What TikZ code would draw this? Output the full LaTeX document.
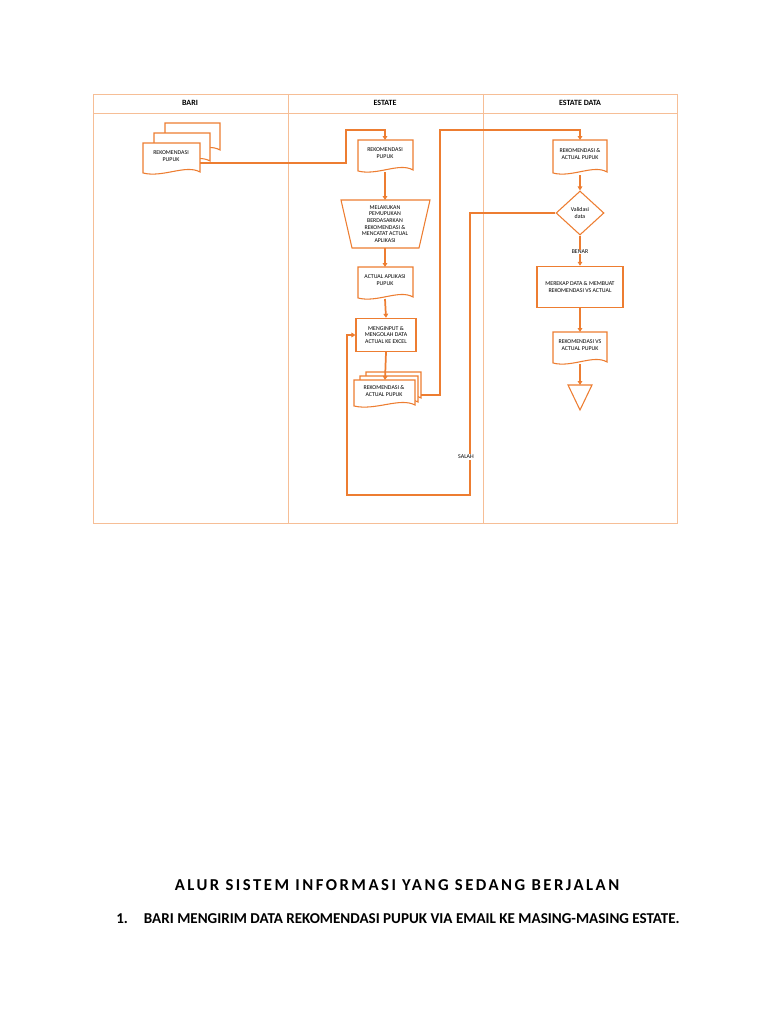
\documentclass[tikz,border=0pt]{standalone}
\usepackage{fontspec}
\setmainfont{Carlito}
\usetikzlibrary{arrows.meta,shapes.geometric}
\definecolor{org}{RGB}{237,125,49}
\definecolor{lorg}{RGB}{246,190,150}
\tikzset{
 x=0.75pt,y=-0.75pt,
 lane/.style={draw=lorg,line width=0.6pt},
 shp/.style={draw=org,line width=0.8pt,fill=white},
 txt/.style={font=\fontsize{4.4}{5}\selectfont,align=center,inner sep=0pt},
 box/.style={txt,shp,minimum width=#1*0.75pt,minimum height=24pt},
 con/.style={draw=org,line width=1.3pt,-{Triangle[length=3pt,width=3.5pt]}},
 conn/.style={draw=org,line width=1.3pt}
}
\newcommand{\mydoc}[4]{\path[shp] (#1,#2) -- (#3,#2) -- (#3,#4)
  .. controls ({#3-0.25*(#3-#1)},{#4-8}) and ({#1+0.35*(#3-#1)},{#4+6}) .. (#1,{#4+1}) -- cycle;}
\begin{document}
\begin{tikzpicture}
\useasboundingbox (0,0) rectangle (768,1024);
\draw[lane] (93,94) rectangle (677,523);
\draw[lane] (93,113) -- (677,113);
\draw[lane] (288,94) -- (288,523);
\draw[lane] (483,94) -- (483,523);
\node[txt,font=\fontsize{6}{7}\selectfont\bfseries] (h1) at (190,103) {BARI};
\node[txt,font=\fontsize{6}{7}\selectfont\bfseries] (h2) at (385,103) {ESTATE};
\node[txt,font=\fontsize{6}{7}\selectfont\bfseries] (h3) at (580,103) {ESTATE DATA};
\mydoc{165}{123}{220}{150}
\mydoc{154}{133}{210}{161}
\mydoc{143}{143}{200}{172}
\node[txt] (bari) at (171,156) {REKOMENDASI\\PUPUK};
\coordinate (bariR) at (200,163);
\mydoc{358}{140}{413}{170}
\node[txt] (rp) at (385,153) {REKOMENDASI\\PUPUK};
\path[shp] (341,200) -- (430,200) -- (419,248) -- (352,248) -- cycle;
\node[txt] (man) at (385,224) {MELAKUKAN\\PEMUPUKAN\\BERDASARKAN\\REKOMENDASI \&\\MENCATAT ACTUAL\\APLIKASI};
\mydoc{358}{267}{413}{297}
\node[txt] (aap) at (385,280) {ACTUAL APLIKASI\\PUPUK};
\node[box=60,minimum height=25pt] (inp) at (386,335) {MENGINPUT \&\\MENGOLAH DATA\\ACTUAL KE EXCEL};
\mydoc{366}{372}{421}{398}
\mydoc{360}{376}{418}{402}
\mydoc{354}{380}{415}{405}
\node[txt] (rap) at (384,391) {REKOMENDASI \&\\ACTUAL PUPUK};
\coordinate (rapR) at (421,395);
\mydoc{553}{140}{607}{172}
\node[txt] (ed1) at (580,154) {REKOMENDASI \&\\ACTUAL PUPUK};
\node[diamond,shp,txt,minimum width=36pt,minimum height=33pt,inner sep=0pt] (val) at (580,213) {Validasi\\data};
\node[txt] (benar) at (580,252) {BENAR};
\node[box=86,minimum height=31pt] (rek) at (580,287) {MEREKAP DATA \& MEMBUAT\\REKOMENDASI VS ACTUAL};
\mydoc{553}{332}{607}{362}
\node[txt] (ed2) at (580,345) {REKOMENDASI VS\\ACTUAL PUPUK};
\path[shp] (568,385) -- (592,385) -- (580,410) -- cycle;
\coordinate (tri) at (580,385);
\draw[con] (bariR) -- (346,163) -- (346,130) -- (385,130) -- (rp.north |- 0,140);
\draw[con] (385,172) -- (385,200);
\draw[con] (385,248) -- (385,267);
\draw[con] (385,299) -- (inp.north);
\draw[con] (inp.south) -- (385,380);
\draw[con] (rapR) -- (440,395) -- (440,130) -- (580,130) -- (580,140);
\draw[con] (580,175) -- (val.north);
\draw[conn] (val.south) -- (benar.north);
\draw[con] (benar.south) -- (rek.north);
\draw[con] (rek.south) -- (580,332);
\draw[con] (580,364) -- (tri);
\draw[con] (val.west) -- (470,213) -- (470,495) -- (347,495) -- (347,335) -- (inp.west);
\node[txt,fill=white,inner sep=1pt] (salah) at (466,457) {SALAH};
\node[font=\fontsize{12.5}{14}\selectfont\bfseries\addfontfeature{LetterSpace=15}] (title) at (397,885) {ALUR SISTEM INFORMASI YANG SEDANG BERJALAN};
\node[font=\fontsize{11.3}{13}\selectfont\bfseries,anchor=west,inner sep=0pt] (l1) at (116,919) {1.\hspace{12pt}BARI MENGIRIM DATA REKOMENDASI PUPUK VIA EMAIL KE MASING-MASING ESTATE.};
\end{tikzpicture}
\end{document}
